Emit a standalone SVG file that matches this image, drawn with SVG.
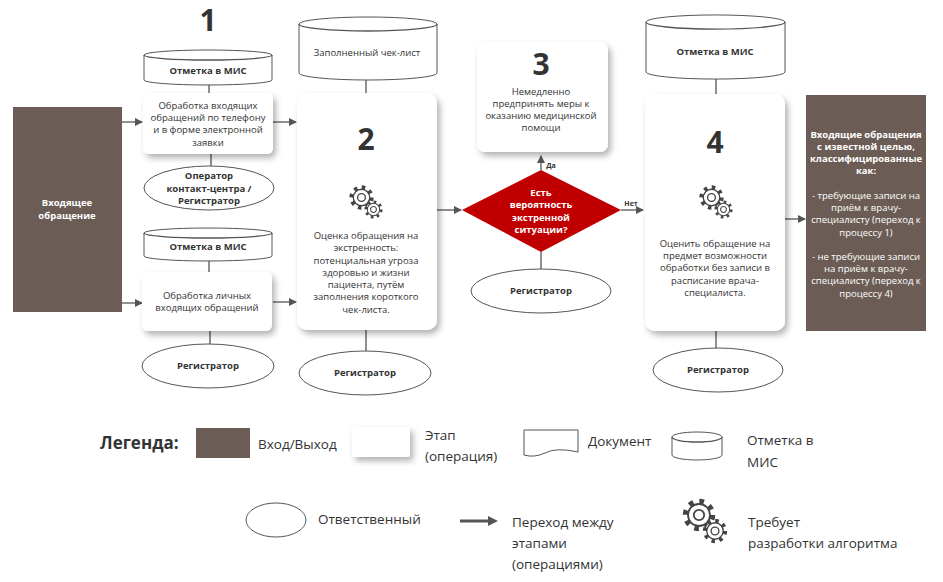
<svg xmlns="http://www.w3.org/2000/svg" width="943" height="582" viewBox="0 0 943 582">
<style>
text{font-family:"Open Sans","Noto Sans","Liberation Sans",sans-serif;fill:#333;text-anchor:middle}
.t{font-size:9.5px}
.b{font-size:9.5px;font-weight:bold}
.w{fill:#fff;font-size:9.5px;font-weight:bold}
.num{font-size:30px;font-weight:bold}
.lg{font-size:13.5px;text-anchor:start}
.ln{stroke:#555;stroke-width:1.3;fill:none}
.ar{stroke:#555;stroke-width:1.3;fill:none;marker-end:url(#ah)}
.cyl{fill:#fff;stroke:#555;stroke-width:1}
.box{fill:#fff;filter:url(#sh)}
.io{fill:#6b5d55}
</style>
<defs>
<marker id="ah" markerWidth="8" markerHeight="8" refX="7" refY="4" orient="auto" markerUnits="userSpaceOnUse"><path d="M0,0 L8,4 L0,8z" fill="#555"/></marker>
<filter id="sh" x="-20%" y="-20%" width="150%" height="150%"><feDropShadow dx="3" dy="4" stdDeviation="3" flood-color="#000" flood-opacity="0.3"/></filter>
<g id="gear1"><circle r="6.5" fill="#fff" stroke="#444" stroke-width="3.2" stroke-dasharray="2.2 2.9"/><circle r="5.5" fill="#fff" stroke="#444" stroke-width="0.9"/><circle r="2.6" fill="none" stroke="#444" stroke-width="0.9"/></g>
<g id="gear"><use href="#gear1" transform="translate(-3,-3)"/><use href="#gear1" transform="translate(5,5) scale(0.75)"/></g>
</defs>

<g id="connectors">
<path class="ar" d="M122,122 H142"/>
<path class="ar" d="M122,303 H142"/>
<path class="ar" d="M273,122 H296"/>
<path class="ar" d="M273,302 H296"/>
<path class="ar" d="M437,210 H461"/>
<path class="ar" d="M541,170 V156"/>
<path class="ar" d="M621,210 H643"/>
<path class="ar" d="M785,219 H805"/>
<path class="ln" d="M209,82 V93 M211,154 V166 M209,258 V272 M210,331 V344 M366,78 V93 M366,330 V351 M541,252 V269 M716,78 V94 M716,331 V348"/>
</g>

<g id="input"><rect class="io" x="13" y="107" width="109" height="205"/><text class="w" x="67" y="206">Входящее</text><text class="w" x="67" y="219">обращение</text></g>

<text class="num" x="208" y="31">1</text>
<g id="mis1"><path class="cyl" d="M144,55 A64,5 0 0 1 272,55 V80 A64,5 0 0 1 144,80 Z"/><path class="ln" d="M144,55 A64,5 0 0 0 272,55" stroke-width="1"/><text class="b" x="208" y="74">Отметка в МИС</text></g>
<g id="step1a"><rect class="box" x="143" y="93" width="130" height="61" rx="6"/>
<text class="t" x="208" y="109">Обработка входящих</text><text class="t" x="208" y="121">обращений по телефону</text><text class="t" x="208" y="133">и в форме электронной</text><text class="t" x="208" y="146">заявки</text></g>
<g id="resp1a"><ellipse class="cyl" cx="209" cy="188" rx="65" ry="22"/><text class="b" x="209" y="179">Оператор</text><text class="b" x="209" y="192">контакт-центра /</text><text class="b" x="209" y="204">Регистратор</text></g>
<g id="mis2"><path class="cyl" d="M144,233 A64,5 0 0 1 272,233 V256 A64,5 0 0 1 144,256 Z"/><path class="ln" d="M144,233 A64,5 0 0 0 272,233" stroke-width="1"/><text class="b" x="208" y="250">Отметка в МИС</text></g>
<g id="step1b"><rect class="box" x="142" y="272" width="130" height="59" rx="6"/><text class="t" x="207" y="299">Обработка личных</text><text class="t" x="207" y="311">входящих обращений</text></g>
<g id="resp1b"><ellipse class="cyl" cx="208" cy="366" rx="66" ry="22"/><text class="b" x="208" y="369">Регистратор</text></g>

<g id="check"><path class="cyl" d="M299,24 A69,7 0 0 1 437,24 V73 A69,7 0 0 1 299,73 Z"/><path class="ln" d="M299,24 A69,7 0 0 0 437,24" stroke-width="1"/><text class="t" x="367" y="56">Заполненный чек-лист</text></g>
<g id="step2"><rect class="box" x="297" y="93" width="140" height="237" rx="10"/><text class="num" x="366" y="150">2</text><use href="#gear" transform="translate(366,202) scale(1.5)"/>
<text class="t" x="366" y="239">Оценка обращения на</text><text class="t" x="366" y="251">экстренность:</text><text class="t" x="366" y="264">потенциальная угроза</text><text class="t" x="366" y="276">здоровью и жизни</text><text class="t" x="366" y="288">пациента, путём</text><text class="t" x="366" y="300">заполнения короткого</text><text class="t" x="366" y="313">чек-листа.</text></g>
<g id="resp2"><ellipse class="cyl" cx="365" cy="373" rx="66" ry="22"/><text class="b" x="365" y="376">Регистратор</text></g>

<g id="decision"><path d="M462,210 L541,170 L621,210 L541,252 Z" fill="#c00000"/>
<text class="w" x="541" y="196">Есть</text><text class="w" x="541" y="208">вероятность</text><text class="w" x="541" y="221">экстренной</text><text class="w" x="541" y="233">ситуации?</text>
<text class="t" x="551" y="168" style="font-size:7px;font-weight:bold">Да</text><text class="t" x="631" y="206" style="font-size:7px;font-weight:bold">Нет</text></g>
<g id="step3"><rect class="box" x="477" y="42" width="131" height="110" rx="8"/><text class="num" x="541" y="75">3</text>
<text class="t" x="541" y="95">Немедленно</text><text class="t" x="541" y="107">предпринять меры к</text><text class="t" x="541" y="119">оказанию медицинской</text><text class="t" x="541" y="131">помощи</text></g>
<g id="resp3"><ellipse class="cyl" cx="541" cy="291" rx="70" ry="22"/><text class="b" x="541" y="294">Регистратор</text></g>

<g id="mis4"><path class="cyl" d="M646,22 A69,7 0 0 1 785,22 V72 A69,7 0 0 1 646,72 Z"/><path class="ln" d="M646,22 A69,7 0 0 0 785,22" stroke-width="1"/><text class="b" x="715" y="55">Отметка в МИС</text></g>
<g id="step4"><rect class="box" x="645" y="94" width="140" height="237" rx="10"/><text class="num" x="715" y="153">4</text><use href="#gear" transform="translate(716,202) scale(1.5)"/>
<text class="t" x="715" y="247">Оценить обращение на</text><text class="t" x="715" y="259">предмет возможности</text><text class="t" x="715" y="271">обработки без записи в</text><text class="t" x="715" y="284">расписание врача-</text><text class="t" x="715" y="296">специалиста.</text></g>
<g id="resp4"><ellipse class="cyl" cx="718" cy="370" rx="65" ry="22"/><text class="b" x="718" y="373">Регистратор</text></g>

<g id="output"><rect class="io" x="806" y="95" width="120" height="236"/>
<text class="w" x="866" y="138">Входящие обращения</text><text class="w" x="866" y="150">с известной целью,</text><text class="w" x="866" y="162">классифицированные</text><text class="w" x="866" y="174">как:</text>
<text class="w" x="866" y="199" style="font-weight:normal">- требующие записи на</text><text class="w" x="866" y="211" style="font-weight:normal">приём к врачу-</text><text class="w" x="866" y="223" style="font-weight:normal">специалисту (переход к</text><text class="w" x="866" y="236" style="font-weight:normal">процессу 1)</text>
<text class="w" x="866" y="260" style="font-weight:normal">- не требующие записи</text><text class="w" x="866" y="272" style="font-weight:normal">на приём к врачу-</text><text class="w" x="866" y="284" style="font-weight:normal">специалисту (переход к</text><text class="w" x="866" y="297" style="font-weight:normal">процессу 4)</text></g>

<g id="legend">
<text x="100" y="449" style="font-size:17px;font-weight:bold;text-anchor:start">Легенда:</text>
<rect class="io" x="196" y="428" width="54" height="30"/><text class="lg" x="258" y="449">Вход/Выход</text>
<rect class="box" x="352" y="427" width="58" height="30" rx="3"/><text class="lg" x="425" y="440">Этап</text><text class="lg" x="425" y="461">(операция)</text>
<path d="M524,430 H578 V452 Q556,447 545,453 Q534,458 524,455 Z" fill="#fff" stroke="#555" stroke-width="1"/><text class="lg" x="588" y="446">Документ</text>
<path class="cyl" d="M672,437 A25,5 0 0 1 722,437 V455 A25,5 0 0 1 672,455 Z"/><path class="ln" d="M672,437 A25,5 0 0 0 722,437" stroke-width="1"/>
<text class="lg" x="747" y="445">Отметка в</text><text class="lg" x="747" y="467">МИС</text>
<ellipse class="cyl" cx="276" cy="520" rx="30" ry="17"/><text class="lg" x="318" y="524">Ответственный</text>
<path d="M460,521 H490" stroke="#555" stroke-width="3"/><path d="M488,516 L498,521 L488,526z" fill="#555"/>
<text class="lg" x="512" y="527">Переход между</text><text class="lg" x="512" y="548">этапами</text><text class="lg" x="512" y="569">(операциями)</text>
<use href="#gear" transform="translate(705,521) scale(2)"/>
<text class="lg" x="748" y="527">Требует</text><text class="lg" x="748" y="548">разработки алгоритма</text>
</g>
</svg>
